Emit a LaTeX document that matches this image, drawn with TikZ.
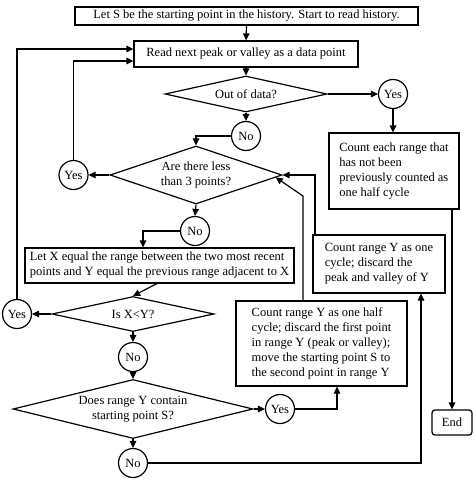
\documentclass[tikz,border=0pt]{standalone}
\usepackage{fontspec}
\setmainfont{Liberation Serif}
\usetikzlibrary{shapes.geometric,arrows.meta,calc}
\begin{document}
\begin{tikzpicture}[x=1pt,y=-1pt,
  font=\fontsize{12.5}{15}\selectfont, line width=1.2pt,
  box/.style={draw, rectangle, inner sep=0pt, align=left},
  dia/.style={draw, diamond, inner sep=0pt, align=center, aspect=3.5},
  circ/.style={draw, circle, inner sep=0pt, minimum size=29pt},
  arr/.style={-{Triangle[length=7pt,width=6.5pt]}}]
\useasboundingbox (0,0) rectangle (474,481);

\node[box, minimum width=343pt, minimum height=18pt] (top) at (246.5,16) {Let S be the starting point in the history. Start to read history.};
\node[box, minimum width=224pt, minimum height=26pt] (read) at (246,54) {Read next peak or valley as a data point};
\node[dia, minimum width=162pt, minimum height=36pt] (d1) at (246,94) {Out of data?};
\node[circ] (yes1) at (393,94) {Yes};
\node[box, minimum width=130pt, minimum height=76pt] (count) at (394,171) {Count each range that\\has not been\\previously counted as\\one half cycle};
\node[box, minimum width=40pt, minimum height=25pt, rounded corners=3pt] (end) at (452,422.5) {End};
\node[circ] (no1) at (246,136) {No};
\node[dia, minimum width=172pt, minimum height=58pt] (d2) at (196,175) {Are there less\\than 3 points?};
\node[circ] (yes2) at (73.5,175) {Yes};
\node[circ] (no2) at (195,231) {No};
\node[box, minimum width=269pt, minimum height=35pt] (letx) at (159.5,265.5) {Let X equal the range between the two most recent\\points and Y equal the previous range adjacent to X};
\node[dia, minimum width=162pt, minimum height=35pt] (d3) at (133,314) {Is X<Y?};
\node[circ] (yes3) at (17,314) {Yes};
\node[circ] (no3) at (133,357) {No};
\node[dia, minimum width=240pt, minimum height=59pt] (d4) at (133,409) {Does range Y contain\\starting point S?};
\node[circ] (yes4) at (280,409) {Yes};
\node[circ] (no4) at (133,463) {No};
\node[box, minimum width=171pt, minimum height=85pt] (half) at (321.5,343.5) {Count range Y as one half\\cycle; discard the first point\\in range Y (peak or valley);\\move the starting point S to\\the second point in range Y};
\node[box, minimum width=132pt, minimum height=58pt] (cycle) at (379,264) {Count range Y as one\\cycle; discard the\\peak and valley of Y};

\coordinate (bend1) at (303,196);
\coordinate (d2in) at ($(d2.east)!0.08!(d2.south)$);

\draw[arr] (top.south) -- (read.north);
\draw[arr] (read.south) -- (d1.north);
\draw[arr] (d1.east) -- (yes1.west);
\draw[arr] (yes1.south) -- (count.north -| yes1.south);
\draw[arr] (end.north |- count.south) -- (end.north);
\draw[arr] (d1.south) -- (no1.north);
\draw[arr] (no1.west) -| (d2.north);
\draw[arr] (d2.west) -- (yes2.east);
\draw[arr] (yes2.north) |- ([yshift=-7pt]read.west);
\draw[arr] (yes3.north) |- ([yshift=5pt]read.west);
\draw[arr] (d2.south) -- (no2.north);
\draw[arr] (no2.west) -| ([xshift=-16.5pt]letx.north);
\draw[arr] ([xshift=-2.5pt]letx.south) -- (d3.north);
\draw[arr] (d3.west) -- (yes3.east);
\draw[arr] (d3.south) -- (no3.north);
\draw[arr] (no3.south) -- (d4.north);
\draw[arr] (d4.east) -- (yes4.west);
\draw[arr] (yes4.east) -| ([xshift=15.5pt]half.south);
\draw[arr] ([xshift=-18.5pt]half.north) -- (bend1) -- (d2in);
\draw[arr] ([xshift=-64pt]cycle.north) |- (d2.east);
\draw[arr] (d4.south) -- (no4.north);
\draw[arr] (no4.east) -| ([xshift=42pt]cycle.south);
\end{tikzpicture}
\end{document}
